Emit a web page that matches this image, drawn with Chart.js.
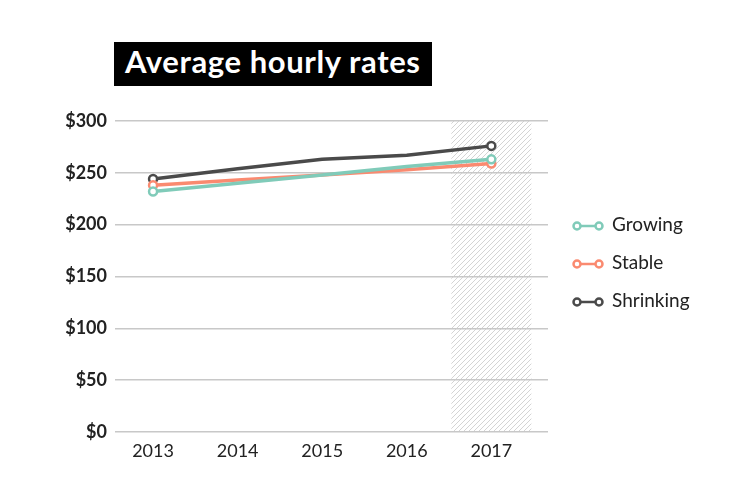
<!DOCTYPE html>
<html>
<head>
<meta charset="utf-8">
<script src="https://cdn.jsdelivr.net/npm/chart.js@4.4.1/dist/chart.umd.min.js"></script>
<style>
  html, body { margin: 0; padding: 0; background: #fff; }
  #wrap { position: relative; width: 750px; height: 499px; }
  #titulo {
    position: absolute; left: 114px; top: 42px; height: 44px; line-height: 44px;
    padding: 0 11px; background: #000; color: #fff;
    font: bold 31px Lato, sans-serif; letter-spacing: 0.6px; white-space: nowrap;
  }
</style>
</head>
<body>
<div id="wrap">
  <canvas id="grafico" width="750" height="499"></canvas>
  <div id="titulo">Average hourly rates</div>
</div>
<script>
// Dados
const anos = [2013, 2014, 2015, 2016, 2017];
const growing = [232, 240, 248, 256, 263];
const stable = [238, 243, 248, 253, 259];
const shrinking = [244, 254, 263, 267, 276];
const seriesNomes = ['Growing', 'Stable', 'Shrinking'];
const seriesCores = ['#80cbb9', '#fa8a70', '#4a4a4a'];
const yTicks = [0, 50, 100, 150, 200, 250, 300];
const anoDestaque = 2017;

const FONTE = 'Lato, sans-serif';

// Padrão hachurado para o ano em destaque
function criarHachura() {
    const c = document.createElement('canvas');
    c.width = 5; c.height = 5;
    const g = c.getContext('2d');
    g.strokeStyle = '#d4d4d4';
    g.lineWidth = 1;
    g.beginPath();
    g.moveTo(0, 5); g.lineTo(5, 0);
    g.moveTo(-1, 1); g.lineTo(1, -1);
    g.moveTo(4, 6); g.lineTo(6, 4);
    g.stroke();
    return c;
}

const pluginHachura = {
    id: 'hachura',
    beforeDraw(chart) {
        const { ctx, chartArea, scales } = chart;
        const x0 = scales.x.getPixelForValue(anoDestaque - 0.473);
        const x1 = scales.x.getPixelForValue(anoDestaque + 0.473);
        ctx.save();
        ctx.fillStyle = ctx.createPattern(criarHachura(), 'repeat');
        ctx.fillRect(x0, chartArea.top, x1 - x0, chartArea.bottom - chartArea.top);
        ctx.restore();
    }
};

// Legenda desenhada à direita (linha com dois círculos)
const pluginLegenda = {
    id: 'legendaLateral',
    afterDraw(chart) {
        const { ctx, chartArea } = chart;
        const xIni = chartArea.right + 29;
        ctx.save();
        chart.data.datasets.forEach((ds, i) => {
            const y = 226 + i * 38;
            ctx.strokeStyle = ds.borderColor;
            ctx.lineWidth = 2.5;
            ctx.beginPath();
            ctx.moveTo(xIni + 4, y);
            ctx.lineTo(xIni + 18, y);
            ctx.stroke();
            [xIni, xIni + 22].forEach(cx => {
                ctx.beginPath();
                ctx.arc(cx, y, 3.5, 0, Math.PI * 2);
                ctx.fillStyle = '#fff';
                ctx.fill();
                ctx.stroke();
            });
            ctx.fillStyle = '#222';
            ctx.font = '19px ' + FONTE;
            ctx.textBaseline = 'middle';
            ctx.fillText(ds.label, xIni + 35, y - 1);
        });
        ctx.restore();
    }
};

const series = [growing, stable, shrinking];
const datasets = series.map((vals, i) => ({
    label: seriesNomes[i],
    data: vals.map((v, j) => ({ x: anos[j], y: v })),
    borderColor: seriesCores[i],
    backgroundColor: '#fff',
    borderWidth: 3.5,
    tension: 0,
    pointRadius: ctx => (ctx.dataIndex === 0 || ctx.dataIndex === anos.length - 1) ? 4 : 0,
    pointBorderWidth: 2.5,
    pointBackgroundColor: '#fff',
    pointBorderColor: seriesCores[i]
}));

new Chart(document.getElementById('grafico'), {
    type: 'line',
    data: { datasets },
    options: {
        responsive: false,
        animation: false,
        layout: { padding: { top: 121, right: 202, left: 0, bottom: 0 } },
        scales: {
            x: {
                type: 'linear',
                min: 2012.55,
                max: 2017.67,
                grid: { display: false },
                border: { display: false },
                afterBuildTicks: scale => { scale.ticks = anos.map(v => ({ value: v })); },
                afterFit: scale => { scale.height = 67; },
                ticks: {
                    padding: 0,
                    color: '#222',
                    font: { family: FONTE, size: 18 },
                    callback: v => String(v),
                    maxRotation: 0
                }
            },
            y: {
                min: 0,
                max: 300,
                grid: { color: '#c8c8c8', lineWidth: 1.5, drawTicks: false },
                border: { display: false },
                afterBuildTicks: scale => { scale.ticks = yTicks.map(v => ({ value: v })); },
                afterFit: scale => { scale.width = 115; },
                ticks: {
                    padding: 8,
                    color: '#222',
                    font: { family: FONTE, size: 18, weight: 'bold' },
                    callback: v => '$' + v
                }
            }
        },
        plugins: {
            legend: { display: false },
            tooltip: { enabled: false }
        }
    },
    plugins: [pluginHachura, pluginLegenda]
});
</script>
</body>
</html>
